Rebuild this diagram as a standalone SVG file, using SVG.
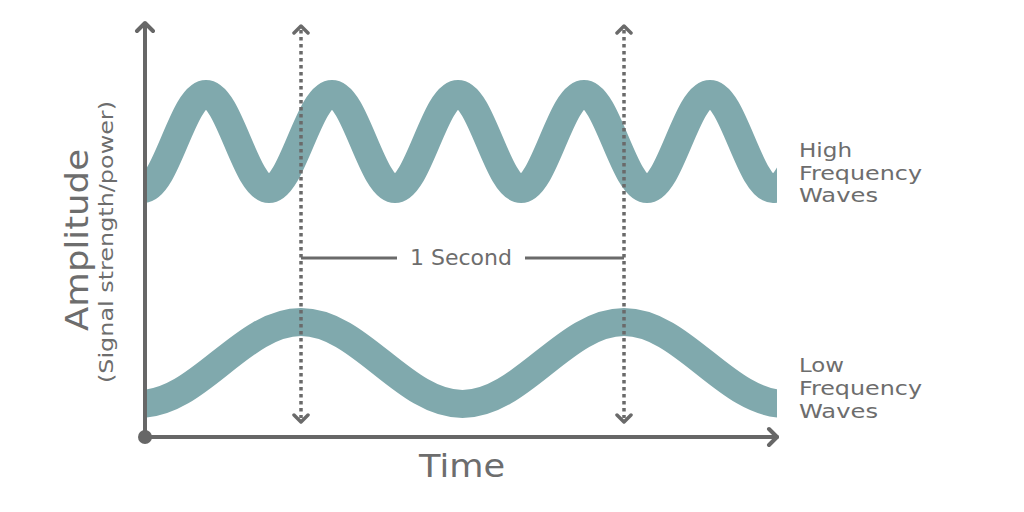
<svg xmlns="http://www.w3.org/2000/svg" width="1024" height="512" viewBox="0 0 1024 512">
<style>
.wave{fill:none;stroke:#80A9AD;stroke-width:28}
.axis{fill:none;stroke:#676767;stroke-width:4;stroke-linecap:round;stroke-linejoin:round}
.dot{fill:none;stroke:#6a6a6a;stroke-width:3.5;stroke-dasharray:3.5 3.5}
.chev{fill:none;stroke:#6a6a6a;stroke-width:3.5;stroke-linecap:round;stroke-linejoin:round}
.sec{fill:none;stroke:#6a6a6a;stroke-width:3}
text{font-family:"DejaVu Sans","Liberation Sans",sans-serif;fill:#6d6d6d}
.lbl{font-size:20px}
</style>
<defs>
<clipPath id="plot"><rect x="145" y="0" width="632" height="512"/></clipPath>
</defs>
<rect width="1024" height="512" fill="#ffffff"/>
<g id="high-wave" clip-path="url(#plot)">
<path class="wave" d="M80,94 C102.9,94 120.1,189 143,189 S183.1,94 206,94 S246.1,189 269,189 S309.1,94 332,94 S372.1,189 395,189 S435.1,94 458,94 S498.1,189 521,189 S561.1,94 584,94 S624.1,189 647,189 S687.1,94 710,94 S750.1,189 773,189 S813.1,94 836,94"/>
</g>
<g id="low-wave" clip-path="url(#plot)">
<path class="wave" d="M-22,322 C36.8,322 80.7,404 139.5,404 S242.2,322 301,322 S403.7,404 462.5,404 S565.2,322 624,322 S726.7,404 785.5,404"/>
</g>
<g id="connectors">
<path class="dot" d="M301,30 V418"/>
<path class="chev" d="M294,33 L301,26 L308,33 M294,415 L301,422 L308,415"/>
<path class="dot" d="M624,30 V418"/>
<path class="chev" d="M617,33 L624,26 L631,33 M617,415 L624,422 L631,415"/>
<path class="sec" d="M301,258 H397 M525,258 H624"/>
</g>
<g id="axes">
<path class="axis" d="M145,24 V437 H777"/>
<path class="axis" d="M137,31 L145,23 L153,31 M769,429 L777,437 L769,445"/>
<circle cx="145" cy="437" r="7" fill="#676767"/>
</g>
<g id="labels">
<text x="461" y="265" font-size="22" text-anchor="middle" textLength="102" lengthAdjust="spacingAndGlyphs">1 Second</text>
<text x="462" y="477" font-size="32" text-anchor="middle" textLength="86" lengthAdjust="spacingAndGlyphs">Time</text>
<text transform="translate(88,240) rotate(-90)" font-size="32" text-anchor="middle" textLength="182" lengthAdjust="spacingAndGlyphs">Amplitude</text>
<text transform="translate(113,242) rotate(-90)" font-size="20" text-anchor="middle" textLength="282" lengthAdjust="spacingAndGlyphs">(Signal strength/power)</text>
<text class="lbl" x="799" y="157" textLength="53" lengthAdjust="spacingAndGlyphs">High</text>
<text class="lbl" x="799" y="180" textLength="123" lengthAdjust="spacingAndGlyphs">Frequency</text>
<text class="lbl" x="799" y="202" textLength="79" lengthAdjust="spacingAndGlyphs">Waves</text>
<text class="lbl" x="799" y="372" textLength="45" lengthAdjust="spacingAndGlyphs">Low</text>
<text class="lbl" x="799" y="395" textLength="123" lengthAdjust="spacingAndGlyphs">Frequency</text>
<text class="lbl" x="799" y="418" textLength="79" lengthAdjust="spacingAndGlyphs">Waves</text>
</g>
</svg>
